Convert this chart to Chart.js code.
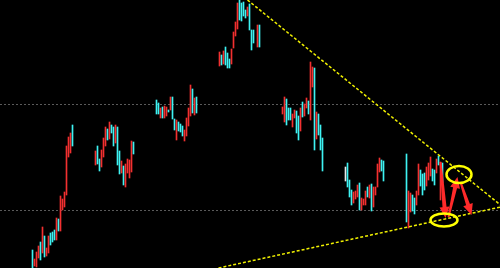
<!DOCTYPE html>
<html><head><meta charset="utf-8">
<script src="https://cdn.jsdelivr.net/npm/chart.js@4/dist/chart.umd.min.js"></script>
<style>html,body{margin:0;padding:0;background:#000;overflow:hidden}#wrap{width:500px;height:268px}</style>
</head><body><div id="wrap"><canvas id="c" width="500" height="268"></canvas></div>
<script>
// time slot of each bar (session clusters)
const barTime = [
  16,17,18,19,20,21,22,23,24,25,26,27,28,29,30,31,32,33,34,35,36,
  47.5,48.5,49.5,50.5,51.5,52.5,53.5,54.5,55.5,56.5,57.5,58.5,59.5,60.5,61.5,62.5,63.5,64.5,65.5,66.5,
  78,79,80,81,82,83,84,85,86,87,88,89,90,91,92,93,94,95,96,97,98,
  109.5,110.5,111.5,112.5,113.5,114.5,115.5,116.5,117.5,118.5,119.5,120.5,121.5,122.5,123.5,124.5,125.5,126.5,128.5,129.5,
  141,142,143,144,145,146,147,148,149,150,151,152,153,154,155,156,157,158,159,160,161,
  172.5,173.5,174.5,175.5,176.5,177.5,178.5,179.5,180.5,181.5,182.5,183.5,184.5,185.5,186.5,187.5,188.5,189.5,190.5,191.5,
  203,204,205,206,207,208,209,210,211,212,213,214,215,216,217,218,219,220,221
];
const barHigh = [
  18,9,16,22,26,41,32,20,32,35,36,38,50,49,72,69,76,122,131,135,143,
  117,122,109,118,130,141,139,146,143,141,143,141,117,107,102,104,109,108,127,126,
  168,165,160,161,162,161,158,171,171,149,148,146,144,142,138,150,160,183,179,170,171,
  216,213,217,221,215,209,219,236,246,265,268,265,266,258,261,264,238,238,243,243,
  161,171,169,160,160,154,158,157,152,160,166,164,170,167,206,201,200,156,154,143,130,
  101,105,88,78,76,77,83,85,70,69,77,81,83,84,81,81,104,110,108,107,
  114,77,75,73,70,77,104,98,94,95,101,105,111,99,98,109,112,106,105
];
const barLow = [
  0,2,1,10,8,15,11,12,15,23,26,28,28,37,37,58,61,73,111,115,122,
  103,104,97,101,111,122,128,129,135,122,125,103,94,95,83,81,95,90,96,114,
  154,154,150,150,150,152,156,158,149,138,128,137,136,132,127,132,142,152,155,153,155,
  202,203,204,203,200,200,204,220,232,239,248,247,252,250,252,238,218,225,221,221,
  154,146,143,148,148,141,150,135,128,137,151,152,160,154,148,181,118,129,133,118,97,
  87,81,71,63,65,69,71,58,58,63,63,71,70,57,61,73,81,96,97,87,
  46,40,56,57,54,63,73,82,73,78,82,88,92,87,83,95,103,68,85
];
// u = up (red), d = down (cyan), n = neutral (white)
const barDir = [
  'd','u','u','u','d','u','d','u','u','d','d','d','u','d','u','u','u','u','u','u','d',
  'u','d','d','u','u','u','d','u','d','d','u','d','d','u','d','u','u','u','u','d',
  'd','d','u','d','u','u','d','u','d','d','u','d','d','d','u','u','u','u','d','u','d',
  'u','d','u','d','d','d','u','u','u','u','d','d','d','d','u','d','d','d','u','d',
  'u','u','d','d','d','u','u','d','d','u','d','u','u','d','u','u','d','u','d','d','d',
  'n','d','d','d','u','u','u','d','u','u','u','d','u','d','u','u','u','u','d','d',
  'd','u','u','d','d','u','u','d','d','d','u','u','u','d','d','u','d','u','d'
];
// horizontal reference levels
const gridLevels = [58, 163];
// trend lines (time, price)
const upperTrend = [{x:123.5, y:268}, {x:250, y:63}];
const lowerTrend = [{x:109, y:0}, {x:250, y:61}];
// hand-drawn markers (time, price)
const circleMarks = [{x:229.25, y:93.5}, {x:221.75, y:48}];
const arrowMarks = [
  {from:{x:220, y:106}, to:{x:222.5, y:50}},
  {from:{x:224, y:51}, to:{x:228.5, y:91}},
  {from:{x:230, y:86}, to:{x:235.5, y:53}}
];

const dirColor = {u:'#f23030', d:'#3ef2f2', n:'#e8e8e8'};

const bgPlugin = {
  id:'bg',
  beforeDraw(chart){ const c=chart.ctx; c.save(); c.fillStyle='#000'; c.fillRect(0,0,chart.width,chart.height); c.restore(); }
};
const markPlugin = {
  id:'marks',
  afterDatasetsDraw(chart){
    const c = chart.ctx, xs = chart.scales.x, ys = chart.scales.y;
    c.save();
    // arrows
    c.fillStyle = '#ff2a2a';
    arrowMarks.forEach(a=>{
      const x1=xs.getPixelForValue(a.from.x), y1=ys.getPixelForValue(a.from.y);
      const x2=xs.getPixelForValue(a.to.x), y2=ys.getPixelForValue(a.to.y);
      const dx=x2-x1, dy=y2-y1, L=Math.hypot(dx,dy), ux=dx/L, uy=dy/L, nx=-uy, ny=ux;
      const h=11, w=5, nxk=x2-ux*h, nyk=y2-uy*h;
      c.beginPath();
      c.moveTo(x1+nx*1, y1+ny*1);
      c.lineTo(nxk+nx*2, nyk+ny*2);
      c.lineTo(nxk+nx*w, nyk+ny*w);
      c.lineTo(x2, y2);
      c.lineTo(nxk-nx*w, nyk-ny*w);
      c.lineTo(nxk-nx*2, nyk-ny*2);
      c.lineTo(x1-nx*1, y1-ny*1);
      c.closePath();
      c.fill();
    });
    // ellipses
    c.strokeStyle = '#ffff00';
    c.lineWidth = 2.5;
    const radii = [[12.5,8.5],[13.5,6.5]];
    circleMarks.forEach((m,i)=>{
      c.beginPath();
      c.ellipse(xs.getPixelForValue(m.x), ys.getPixelForValue(m.y), radii[i][0], radii[i][1], 0, 0, Math.PI*2);
      c.stroke();
    });
    c.restore();
  }
};

new Chart(document.getElementById('c'), {
  type:'bar',
  data:{
    datasets:[
      {type:'line', data:upperTrend, borderColor:'#f0f000', borderWidth:1.5, borderDash:[3,2], pointRadius:0, fill:false, tension:0},
      {type:'line', data:lowerTrend, borderColor:'#f0f000', borderWidth:1.5, borderDash:[3,2], pointRadius:0, fill:false, tension:0},
      {type:'bar', data:barTime.map((t,i)=>({x:t, y:[barLow[i], barHigh[i]]})),
       backgroundColor:barDir.map(d=>dirColor[d]), borderWidth:0, barThickness:1, grouped:false}
    ]
  },
  options:{
    responsive:false, animation:false, devicePixelRatio:1,
    layout:{padding:0},
    plugins:{legend:{display:false}, tooltip:{enabled:false}},
    scales:{
      x:{type:'linear', min:-0.25, max:249.75, display:false, offset:false},
      y:{type:'linear', min:0, max:268,
         afterBuildTicks:s=>{ s.ticks = gridLevels.map(v=>({value:v})); },
         ticks:{display:false},
         border:{display:false, dash:[2,2]},
         grid:{color:'#5a5a5a', drawTicks:false, lineWidth:1}}
    }
  },
  plugins:[bgPlugin, markPlugin]
});
</script>
</body></html>
